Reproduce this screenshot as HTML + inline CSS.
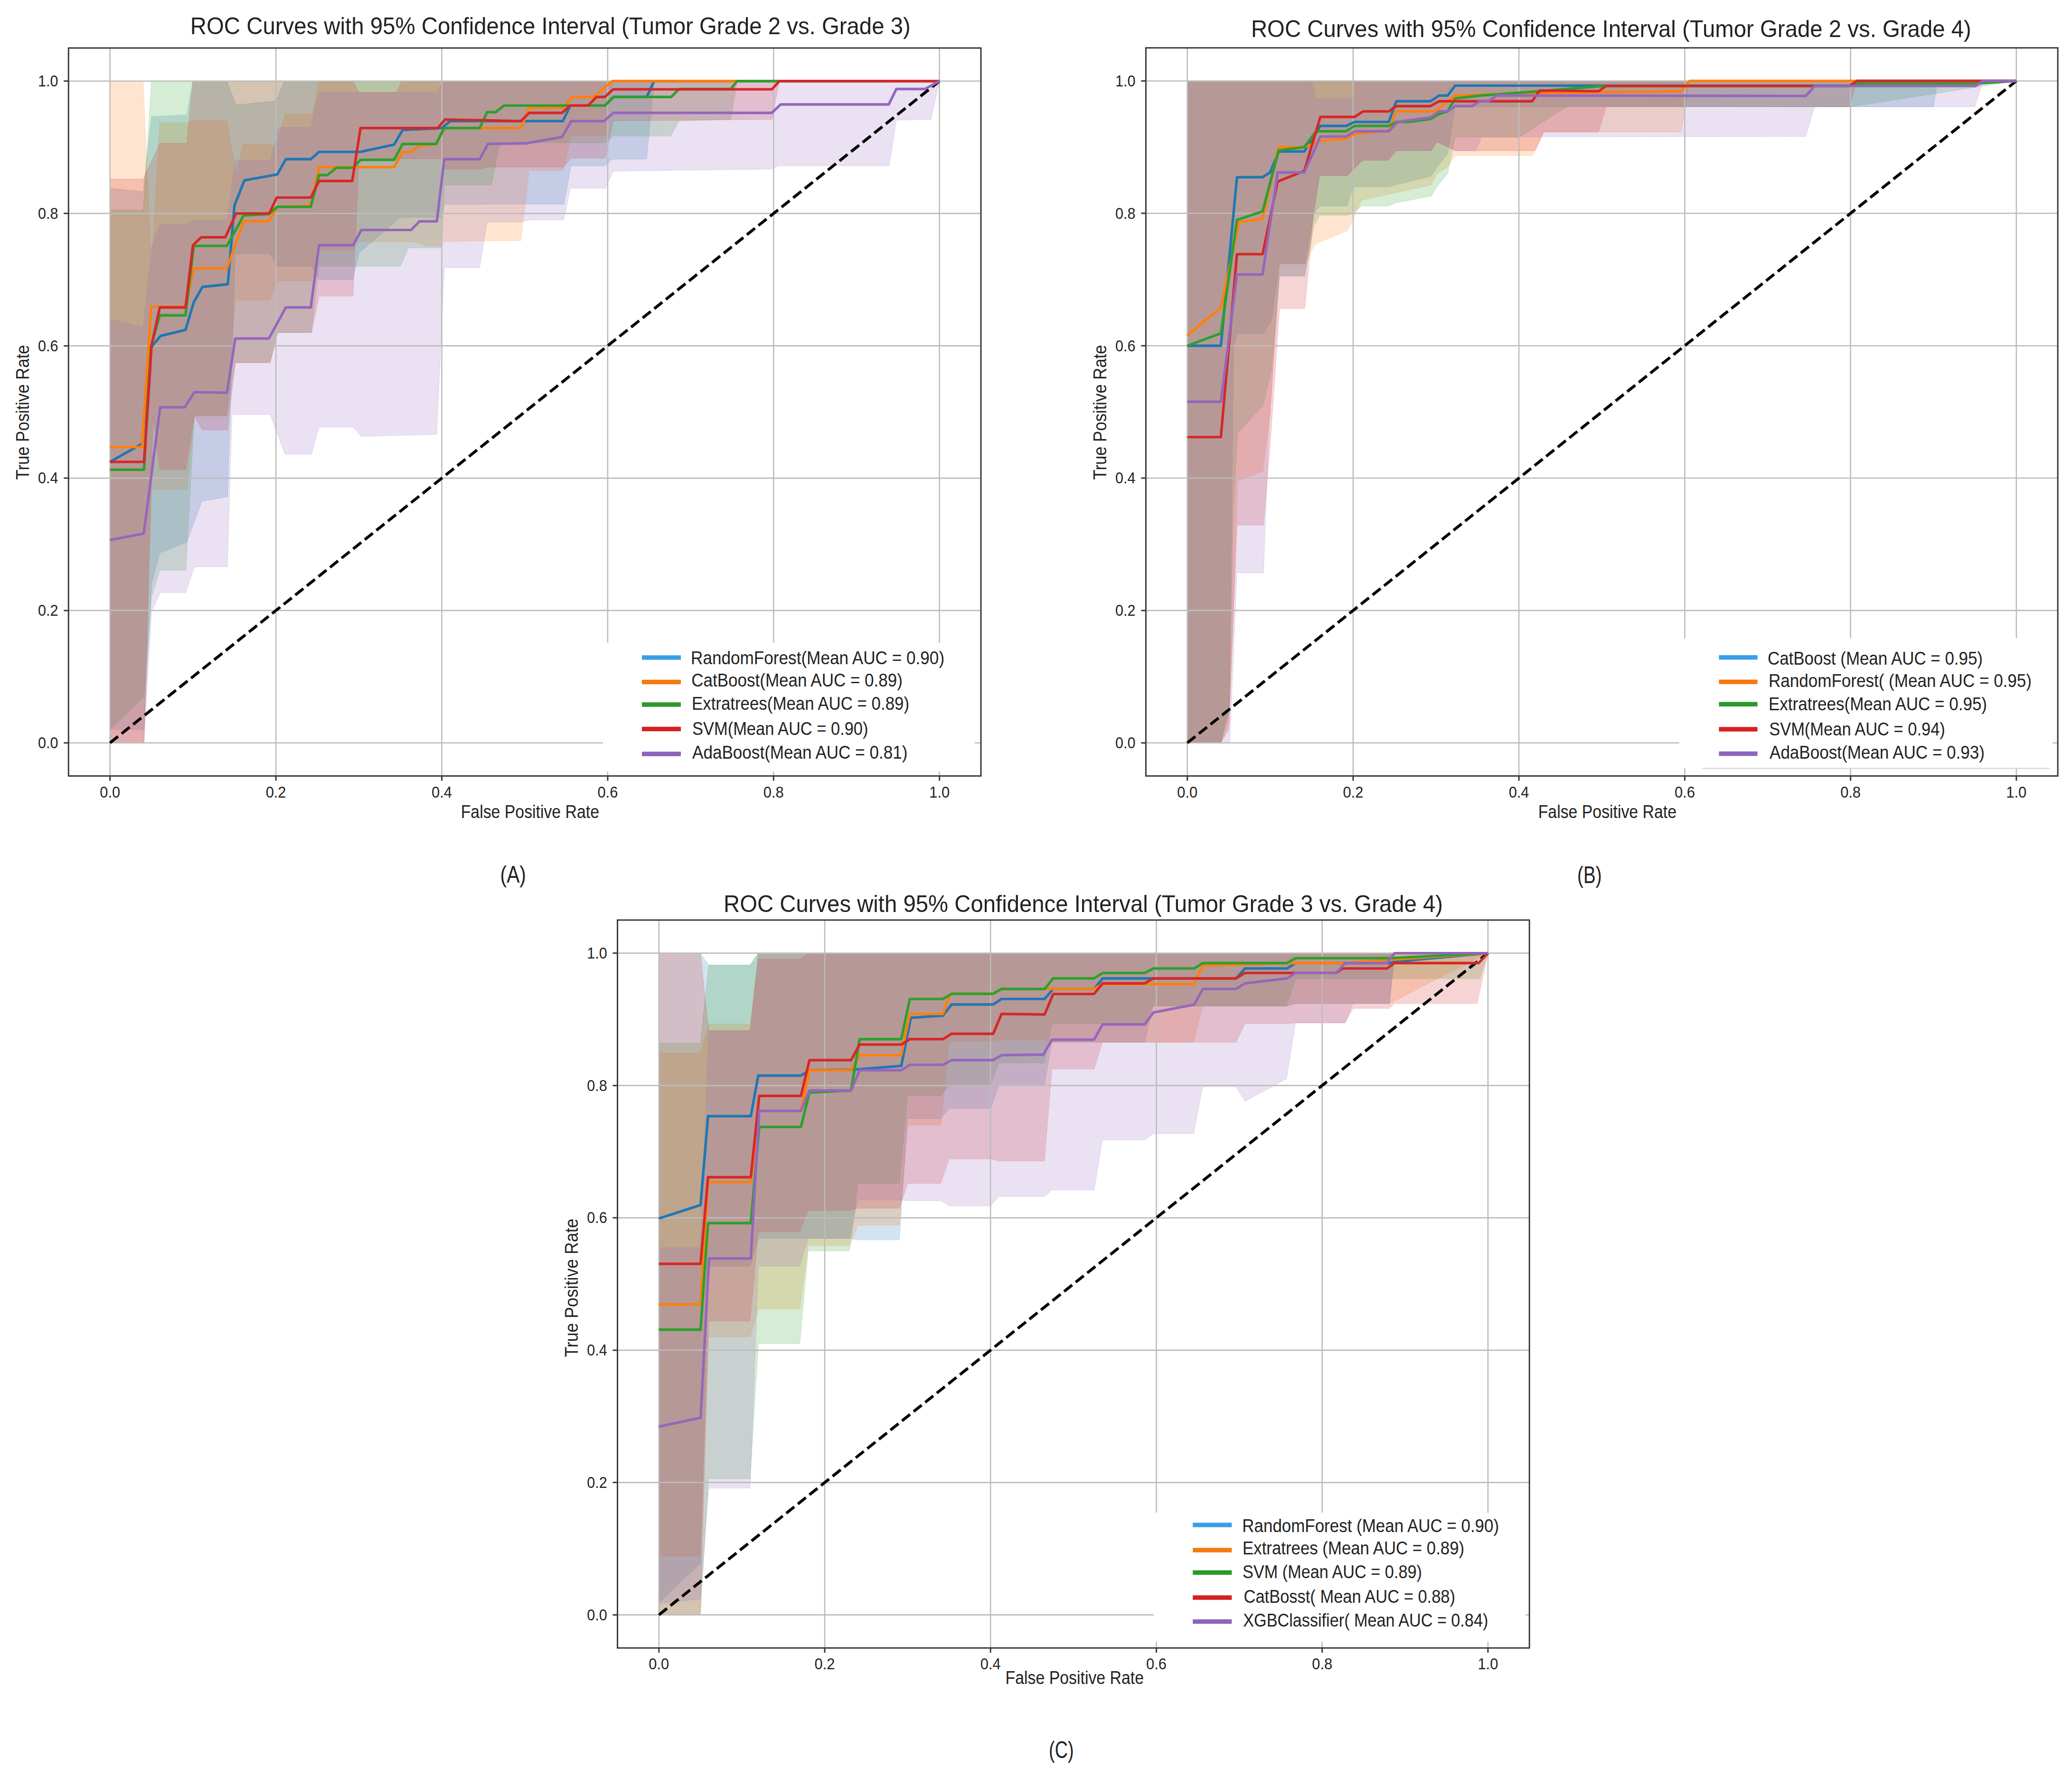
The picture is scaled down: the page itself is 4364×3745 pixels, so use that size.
<!DOCTYPE html><html><head><meta charset="utf-8"><style>html,body{margin:0;padding:0;background:#fff;width:4364px;height:3745px;overflow:hidden}</style></head><body><svg xmlns="http://www.w3.org/2000/svg" width="4364" height="3745" viewBox="0 0 4364 3745" style="display:block;font-family:'Liberation Sans', sans-serif;fill:#222;white-space:pre">
<rect width="4364" height="3745" fill="#fff"/>
<clipPath id="clipA"><rect x="144.3" y="101.1" width="1921.7" height="1533.3"/></clipPath>
<g clip-path="url(#clipA)">
<path d="M231.7 396.6 L301.6 403.6 L319.1 246.1 L393.3 241.9 L406.4 170.8 L478 170.8 L497.2 221 L581.1 212.6 L598.6 170.8 L1978.7 170.8 L1978.7 170.8 L1377.7 170.8 L1362 335.3 L1289.7 335.3 L1274.7 349.2 L1203 349.2 L1187.3 430.1 L1113.9 430.1 L1096.5 430.1 L1026.6 430.1 L1010.9 430.3 L935.7 430.3 L930.5 457.9 L843.1 457.9 L755.8 533.2 L743.6 589 L671.9 589 L656.2 561.1 L584.6 561.1 L568.9 534.6 L495.5 534.6 L479.1 1046.2 L425.1 1055.9 L393.6 1142.3 L336.5 1164.7 L319.1 1230.2 L303.3 1536.8 L231.7 1536.8Z" fill="#1f77b4" fill-opacity="0.2" stroke="#1f77b4" stroke-opacity="0.2" stroke-width="1"/>
<path d="M231.7 170.8 L301.6 170.8 L319.1 568.1 L336.5 258.6 L390.7 258.6 L406.4 254.4 L478 254.4 L497.2 365.9 L513 303.2 L566.3 303.2 L581.1 310.2 L600.3 240.5 L658 240.5 L671.9 170.8 L1978.7 170.8 L1978.7 170.8 L1289.7 170.8 L1274.7 285.1 L1203 285.1 L1187.3 359 L1114.6 359 L1097 506.7 L935.7 508.5 L930.5 517.9 L895.6 517.9 L878.1 509.5 L755.8 509.5 L743.6 526.2 L671.9 526.2 L656.2 591.8 L584.6 591.8 L568.9 632.2 L495.5 632.2 L478 876.1 L409.4 876.1 L394.2 1030.8 L319.1 1030.8 L303.3 1564.7 L231.7 1564.7Z" fill="#ff7f0e" fill-opacity="0.2" stroke="#ff7f0e" stroke-opacity="0.2" stroke-width="1"/>
<path d="M231.7 442.6 L301.6 442.6 L319.1 170.8 L1978.7 170.8 L1978.7 170.8 L1552.4 170.8 L1539.3 251.6 L1430.1 254.4 L1412.7 286.5 L1291.8 286.5 L1274.7 300.4 L1203 300.4 L1187.3 300.4 L1052.8 300.4 L1035.3 389.6 L935.7 389.6 L930.5 522.1 L860.6 522.1 L843.1 561.1 L755.8 561.1 L743.6 561.1 L671.9 561.1 L656.2 700.5 L584.6 700.5 L568.9 763.9 L495.5 763.9 L478 876.1 L409.4 876.1 L391.4 1200.9 L336.5 1200.9 L319.1 1258 L303.3 1467.1 L231.7 1536.8Z" fill="#2ca02c" fill-opacity="0.2" stroke="#2ca02c" stroke-opacity="0.2" stroke-width="1"/>
<path d="M231.7 377.1 L301.6 377.1 L336.5 301.8 L393.3 301.8 L406.4 170.8 L743.6 170.8 L755.8 194.5 L834.4 194.5 L846.6 170.8 L1978.7 170.8 L1978.7 170.8 L1641.5 170.8 L1625.8 251.6 L1291.8 254.4 L1274.7 333.2 L1203 333.2 L1187.3 352 L1026.6 352 L1010.9 356.2 L935.7 356.2 L930.5 334.4 L755.8 334.4 L743.6 623.8 L671.9 623.8 L656.2 700.5 L584.6 700.5 L568.9 763.9 L495.5 763.9 L479.1 905.4 L425.6 905.4 L409.4 876.1 L391.4 989 L336.5 989 L322.5 876.1 L303.3 1564.7 L231.7 1564.7Z" fill="#d62728" fill-opacity="0.2" stroke="#d62728" stroke-opacity="0.2" stroke-width="1"/>
<path d="M231.7 672.6 L301.6 689.3 L319.1 519.3 L336.5 473.3 L390.7 473.3 L406.4 463.5 L478 463.5 L495.5 338.1 L568.9 338.1 L586.3 268.4 L654.5 268.4 L671.9 194.5 L920 194.5 L935.7 170.8 L1978.7 170.8 L1978.7 170.8 L1961.2 251.6 L1887.9 253 L1873.2 349.2 L1639.8 349.2 L1625.8 356.2 L1292.1 360.4 L1274.7 396.6 L1201.3 396.6 L1187.3 463.5 L1114.6 463.5 L1096.5 467.7 L1025.9 467.7 L1010.2 563.9 L935.7 563.9 L920 915.1 L761 919.3 L743.6 899.8 L671.9 899.8 L656.2 957 L600.3 957 L568.9 873.3 L488.5 873.3 L479.1 1193.9 L409.4 1193.9 L391.4 1248.3 L337.4 1248.3 L319.1 1288.7 L303.3 1564.7 L231.7 1564.7Z" fill="#9467bd" fill-opacity="0.2" stroke="#9467bd" stroke-opacity="0.2" stroke-width="1"/>
</g>
<path d="M231.7 101.1 V1634.4 M144.3 1564.7 H2066.1 M581.1 101.1 V1634.4 M144.3 1285.9 H2066.1 M930.5 101.1 V1634.4 M144.3 1007.1 H2066.1 M1279.9 101.1 V1634.4 M144.3 728.4 H2066.1 M1629.3 101.1 V1634.4 M144.3 449.6 H2066.1 M1978.7 101.1 V1634.4 M144.3 170.8 H2066.1" stroke="#bcbcbc" stroke-width="2.6" fill="none"/>
<g clip-path="url(#clipA)">
<path d="M231.7 1564.7 L1978.7 170.8" stroke="#000" stroke-width="6" stroke-dasharray="21.7 9.5" fill="none"/>
<path d="M231.7 972.9 L299.1 934.7 L318.4 731.1 L338.3 707.5 L390.7 694.9 L408.1 636.4 L426.5 604.3 L479.8 598.7 L493.8 432.9 L514.7 379.9 L584.1 367.3 L602.1 335.3 L654.5 335.3 L671.9 319.9 L759.3 319.9 L830 304.6 L847.9 273.9 L930.5 269.8 L948 255.1 L1185.4 255.1 L1201.3 222.4 L1274 222.4 L1291.8 204.3 L1362 204.3 L1377.7 170.8 L1978.7 170.8" stroke="#1f77b4" stroke-width="5.4" fill="none" stroke-linejoin="round"/>
<path d="M231.7 941.6 L299.1 941.6 L318.4 646.1 L390.7 646.1 L408.1 565.3 L478 565.3 L513 466.3 L566.3 466.3 L584.1 435.6 L654.5 432.9 L671.9 352 L830 352 L847.9 319.9 L865.9 319.9 L883.3 307.4 L918.3 303.2 L935.7 269.8 L1097 269.8 L1114.6 226.8 L1187.3 226.6 L1205.1 204.3 L1250.2 204.3 L1289.7 170.8 L1978.7 170.8" stroke="#ff7f0e" stroke-width="5.4" fill="none" stroke-linejoin="round"/>
<path d="M231.7 989.4 L303.3 989.4 L318.4 728.4 L336.5 664.2 L390.7 664.2 L408.1 517.9 L478 517.9 L513 453.8 L566.3 451 L584.1 435.6 L654.5 435.6 L671.9 368.7 L689.4 368.7 L708.6 353.4 L743.6 353.4 L759.3 336.7 L830 336.7 L847.9 303.2 L918.3 303.2 L935.7 269.8 L1010.2 269.8 L1025.9 236.3 L1043.7 236.3 L1061.5 222.4 L1274 222.4 L1291.8 204.3 L1413.7 204.3 L1430.1 187.5 L1539.3 187.5 L1552.4 170.8 L1978.7 170.8" stroke="#2ca02c" stroke-width="5.4" fill="none" stroke-linejoin="round"/>
<path d="M231.7 972.9 L303.3 972.9 L314.9 799.4 L319.1 728.4 L336.5 647.5 L390.7 647.5 L406.4 516.5 L423.9 499.8 L474.5 499.8 L497.2 449.6 L567.1 449.6 L582.8 416.1 L654.5 416.1 L671.9 381.3 L741.8 381.3 L759.3 269.8 L921.8 269.8 L937.5 251.6 L1097 255.1 L1114.6 237.7 L1183.5 237.7 L1201.3 222.4 L1238.5 222.4 L1256.3 204.3 L1274 204.3 L1291.8 188.1 L1625.8 188.1 L1641.5 170.8 L1978.7 170.8" stroke="#d62728" stroke-width="5.4" fill="none" stroke-linejoin="round"/>
<path d="M231.7 1137.3 L302.8 1123.8 L337.4 857.9 L389.1 857.9 L409.4 825.9 L478 827.3 L495.5 713 L566.3 713 L602.1 647.5 L654.5 647.5 L671.9 516.5 L743.6 516.5 L761 484.4 L865.9 484.4 L883.3 466.3 L920 466.3 L935.7 335.3 L1010.2 335.3 L1027.8 303.2 L1108.3 301.8 L1183.5 288.6 L1203 255.1 L1272 255.1 L1291.8 237.7 L1625.8 237.7 L1644.1 220 L1871.8 220 L1887.9 187.5 L1948.1 187.5 L1978.7 170.8" stroke="#9467bd" stroke-width="5.4" fill="none" stroke-linejoin="round"/>
</g>
<rect x="1270" y="1354" width="783" height="271" fill="#fff"/>
<rect x="144.3" y="101.1" width="1921.7" height="1533.3" fill="none" stroke="#3a3a3a" stroke-width="3"/>
<path d="M134.3 1564.7 H144.3 M231.7 1634.4 V1644.4 M134.3 1285.9 H144.3 M581.1 1634.4 V1644.4 M134.3 1007.1 H144.3 M930.5 1634.4 V1644.4 M134.3 728.4 H144.3 M1279.9 1634.4 V1644.4 M134.3 449.6 H144.3 M1629.3 1634.4 V1644.4 M134.3 170.8 H144.3 M1978.7 1634.4 V1644.4" stroke="#3a3a3a" stroke-width="3" fill="none"/>
<text x="80.1" y="1576" font-size="32.5" text-anchor="start" textLength="42.5" lengthAdjust="spacingAndGlyphs">0.0</text>
<text x="231.7" y="1679.5" font-size="32.5" text-anchor="middle" textLength="42.9" lengthAdjust="spacingAndGlyphs">0.0</text>
<text x="80.1" y="1297.2" font-size="32.5" text-anchor="start" textLength="42.5" lengthAdjust="spacingAndGlyphs">0.2</text>
<text x="581.1" y="1679.5" font-size="32.5" text-anchor="middle" textLength="42.9" lengthAdjust="spacingAndGlyphs">0.2</text>
<text x="80.1" y="1018.4" font-size="32.5" text-anchor="start" textLength="42.5" lengthAdjust="spacingAndGlyphs">0.4</text>
<text x="930.5" y="1679.5" font-size="32.5" text-anchor="middle" textLength="42.9" lengthAdjust="spacingAndGlyphs">0.4</text>
<text x="80.1" y="739.7" font-size="32.5" text-anchor="start" textLength="42.5" lengthAdjust="spacingAndGlyphs">0.6</text>
<text x="1279.9" y="1679.5" font-size="32.5" text-anchor="middle" textLength="42.9" lengthAdjust="spacingAndGlyphs">0.6</text>
<text x="80.1" y="460.9" font-size="32.5" text-anchor="start" textLength="42.5" lengthAdjust="spacingAndGlyphs">0.8</text>
<text x="1629.3" y="1679.5" font-size="32.5" text-anchor="middle" textLength="42.9" lengthAdjust="spacingAndGlyphs">0.8</text>
<text x="80.1" y="182.1" font-size="32.5" text-anchor="start" textLength="42.5" lengthAdjust="spacingAndGlyphs">1.0</text>
<text x="1978.7" y="1679.5" font-size="32.5" text-anchor="middle" textLength="42.9" lengthAdjust="spacingAndGlyphs">1.0</text>
<text x="400.8" y="72.2" font-size="49.7" text-anchor="start" textLength="1517" lengthAdjust="spacingAndGlyphs">ROC Curves with 95% Confidence Interval  (Tumor Grade 2 vs. Grade 3)</text>
<text x="970.7" y="1723.3" font-size="39.2" text-anchor="start" textLength="291.3" lengthAdjust="spacingAndGlyphs">False Positive Rate</text>
<text x="0" y="0" font-size="39.2" transform="translate(61 1010.4) rotate(-90)" textLength="284" lengthAdjust="spacingAndGlyphs">True Positive Rate</text>
<path d="M1352 1384.9 H1434" stroke="#3a9fe6" stroke-width="9.5"/>
<text x="1455.1" y="1398.9" font-size="39.2" text-anchor="start" textLength="534" lengthAdjust="spacingAndGlyphs">RandomForest(Mean AUC = 0.90)</text>
<path d="M1352 1436.6 H1434" stroke="#f57a10" stroke-width="9.5"/>
<text x="1456.3" y="1446.2" font-size="39.2" text-anchor="start" textLength="444.6" lengthAdjust="spacingAndGlyphs">CatBoost(Mean AUC = 0.89)</text>
<path d="M1352 1483.9 H1434" stroke="#2a9a2a" stroke-width="9.5"/>
<text x="1457" y="1495.4" font-size="39.2" text-anchor="start" textLength="458" lengthAdjust="spacingAndGlyphs">Extratrees(Mean AUC = 0.89)</text>
<path d="M1352 1535.4 H1434" stroke="#d62020" stroke-width="9.5"/>
<text x="1458" y="1548.3" font-size="39.2" text-anchor="start" textLength="370.5" lengthAdjust="spacingAndGlyphs">SVM(Mean AUC = 0.90)</text>
<path d="M1352 1588 H1434" stroke="#8c64bb" stroke-width="9.5"/>
<text x="1458" y="1597.6" font-size="39.2" text-anchor="start" textLength="453.4" lengthAdjust="spacingAndGlyphs">AdaBoost(Mean AUC = 0.81)</text>
<clipPath id="clipB"><rect x="2413.4" y="100.8" width="1920.7" height="1533.6"/></clipPath>
<g clip-path="url(#clipB)">
<path d="M2500.7 170.5 L4246.8 170.5 L4246.8 170.5 L4080.9 170.5 L4072.2 224.9 L3064.7 224.9 L3049 323.9 L3026.8 351.7 L3014.4 371.3 L2940.7 389.4 L2923.6 393.6 L2849.9 393.6 L2837.7 434 L2779.4 434 L2767 451.6 L2748.1 555.7 L2694.9 555.7 L2677.6 676.6 L2660.5 703.1 L2605.5 703.1 L2598.5 728.2 L2588.9 1495 L2571.2 1564.7 L2500.7 1564.7Z" fill="#1f77b4" fill-opacity="0.2" stroke="#1f77b4" stroke-opacity="0.2" stroke-width="1"/>
<path d="M2500.7 170.5 L4246.8 170.5 L4246.8 170.5 L3558.8 170.5 L3540.5 277.9 L3251.5 277.9 L3226.9 328 L3064.7 328 L3049 351.7 L3026.8 365.7 L3014.4 389.4 L2867.4 421.5 L2849.9 463.3 L2837.7 486.3 L2770.1 513.5 L2748.1 555.7 L2694.9 555.7 L2675.3 867.6 L2659.8 993.1 L2606.7 1012.6 L2597.6 1285.9 L2588.9 1522.9 L2571.2 1564.7 L2500.7 1564.7Z" fill="#ff7f0e" fill-opacity="0.2" stroke="#ff7f0e" stroke-opacity="0.2" stroke-width="1"/>
<path d="M2500.7 170.5 L4246.8 170.5 L4246.8 170.5 L3897.6 224.9 L3302.3 223.5 L3200.4 289 L3064.7 289 L3049 365.7 L3026.8 393.6 L3014.4 413.1 L2940.7 427 L2923.6 434 L2867.4 434 L2849.9 449.3 L2837.7 453.5 L2779.4 453.5 L2767 477.2 L2748.1 580.4 L2694.9 580.4 L2677.1 783.9 L2659.8 853.7 L2606.7 913.6 L2597.6 1076.7 L2588.9 1495 L2571.2 1564.7 L2500.7 1564.7Z" fill="#2ca02c" fill-opacity="0.2" stroke="#2ca02c" stroke-opacity="0.2" stroke-width="1"/>
<path d="M2500.7 170.5 L4246.8 170.5 L4246.8 170.5 L3911.2 170.5 L3895.5 224.9 L3382.7 224.9 L3366.9 277.9 L3251.5 277.9 L3234.1 317.4 L3064.7 317.4 L3026.8 298.8 L3014.4 317.4 L2940.7 317.4 L2923.6 337.8 L2870.3 337.8 L2837.7 369.9 L2779.4 369.9 L2767 449.3 L2748.1 650.1 L2694.9 650.1 L2675.3 937.3 L2661.3 1106 L2605.5 1106 L2588 1536.8 L2571.2 1564.7 L2500.7 1564.7Z" fill="#d62728" fill-opacity="0.2" stroke="#d62728" stroke-opacity="0.2" stroke-width="1"/>
<path d="M2500.7 170.5 L2762.6 170.5 L2771.3 208.1 L2846.4 208.1 L2855.2 170.5 L4246.8 170.5 L4246.8 170.5 L4177 170.5 L4159.5 224.9 L3821.8 224.9 L3803.5 287.6 L3120.6 288.6 L3108.3 317.4 L3064.7 317.4 L3026.8 298.8 L3014.4 317.4 L2940.7 317.4 L2923.6 337.8 L2870.3 337.8 L2837.7 369.9 L2779.4 369.9 L2767 449.3 L2748.1 582.5 L2694.9 582.5 L2672.7 899.7 L2661.3 1206.4 L2605.5 1206.4 L2590.1 1564.7 L2571.2 1564.7 L2500.7 1564.7Z" fill="#9467bd" fill-opacity="0.2" stroke="#9467bd" stroke-opacity="0.2" stroke-width="1"/>
</g>
<path d="M2500.7 100.8 V1634.4 M2413.4 1564.7 H4334.1 M2849.9 100.8 V1634.4 M2413.4 1285.9 H4334.1 M3199.1 100.8 V1634.4 M2413.4 1007 H4334.1 M3548.4 100.8 V1634.4 M2413.4 728.2 H4334.1 M3897.6 100.8 V1634.4 M2413.4 449.3 H4334.1 M4246.8 100.8 V1634.4 M2413.4 170.5 H4334.1" stroke="#bcbcbc" stroke-width="2.6" fill="none"/>
<g clip-path="url(#clipB)">
<path d="M2500.7 1564.7 L4246.8 170.5" stroke="#000" stroke-width="6" stroke-dasharray="21.7 9.5" fill="none"/>
<path d="M2500.7 728.2 L2571.4 728.2 L2605.3 373.2 L2659.2 373.2 L2675 363.3 L2693.1 319.1 L2747.1 319.1 L2780.9 265.2 L2834.9 265.2 L2853.1 256.9 L2925 256.9 L2940.7 213.3 L3012.8 213.3 L3031 201.2 L3049 201.2 L3064.7 180.4 L3895.5 180.4 L3911.2 170.5 L4246.8 170.5" stroke="#1f77b4" stroke-width="5.4" fill="none" stroke-linejoin="round"/>
<path d="M2500.7 706.6 L2571.4 648 L2609.7 467.9 L2659.2 461.1 L2693.1 309.9 L2747.1 309.9 L2780.9 296.7 L2834.9 292.1 L2853.1 282 L2925 275.1 L2940.7 234.6 L3021.9 234.6 L3064.7 201.2 L3251.2 195.6 L3540.5 192.1 L3558.8 170.5 L4246.8 170.5" stroke="#ff7f0e" stroke-width="5.4" fill="none" stroke-linejoin="round"/>
<path d="M2500.7 728.2 L2571.4 702.1 L2605.3 463.3 L2659.2 445.2 L2693.1 316.9 L2747.1 309.9 L2771.9 276.5 L2834.9 276.5 L2853.1 265.2 L2925 265.2 L2940.7 256.9 L2967.8 256.9 L3012.8 250.7 L3031 240.2 L3049 234.6 L3064.7 207.4 L3118.8 201.2 L3251.5 191.4 L3377.2 181.1 L3895.5 181.1 L3911.2 176.1 L4159.5 176.1 L4246.8 170.5" stroke="#2ca02c" stroke-width="5.4" fill="none" stroke-linejoin="round"/>
<path d="M2500.7 920.6 L2571.4 920.6 L2605.3 535.4 L2659.2 535.4 L2690.9 382.4 L2747.1 360.1 L2780.9 246.2 L2853.1 246.2 L2871 234.6 L2925 234.6 L2940.7 223.5 L3012.8 223.5 L3031 213.3 L3226.9 213.3 L3242.8 190.7 L3366.9 192.1 L3382.7 181.1 L3895.5 181.1 L3911.2 170.5 L4246.8 170.5" stroke="#d62728" stroke-width="5.4" fill="none" stroke-linejoin="round"/>
<path d="M2500.7 846.3 L2571.4 846.3 L2605.3 578.2 L2659.2 578.2 L2690.9 363.3 L2747.1 363.3 L2780.9 287.6 L2834.9 287.6 L2853.1 276.5 L2925 276.5 L2943.2 256.9 L3012.8 247.2 L3031 234.6 L3049 234.6 L3064.7 223.5 L3100.8 223.5 L3116.5 213.3 L3135.1 213.3 L3152.5 201.2 L3803.5 202.1 L3821.8 181.1 L4161.1 181.1 L4177 170.5 L4246.8 170.5" stroke="#9467bd" stroke-width="5.4" fill="none" stroke-linejoin="round"/>
</g>
<rect x="3537" y="1344" width="786" height="274" fill="#fff"/>
<rect x="2413.4" y="100.8" width="1920.7" height="1533.6" fill="none" stroke="#3a3a3a" stroke-width="3"/>
<path d="M2403.4 1564.7 H2413.4 M2500.7 1634.4 V1644.4 M2403.4 1285.9 H2413.4 M2849.9 1634.4 V1644.4 M2403.4 1007 H2413.4 M3199.1 1634.4 V1644.4 M2403.4 728.2 H2413.4 M3548.4 1634.4 V1644.4 M2403.4 449.3 H2413.4 M3897.6 1634.4 V1644.4 M2403.4 170.5 H2413.4 M4246.8 1634.4 V1644.4" stroke="#3a3a3a" stroke-width="3" fill="none"/>
<text x="2349.1" y="1576" font-size="32.5" text-anchor="start" textLength="42.5" lengthAdjust="spacingAndGlyphs">0.0</text>
<text x="2500.7" y="1679.5" font-size="32.5" text-anchor="middle" textLength="42.9" lengthAdjust="spacingAndGlyphs">0.0</text>
<text x="2349.1" y="1297.2" font-size="32.5" text-anchor="start" textLength="42.5" lengthAdjust="spacingAndGlyphs">0.2</text>
<text x="2849.9" y="1679.5" font-size="32.5" text-anchor="middle" textLength="42.9" lengthAdjust="spacingAndGlyphs">0.2</text>
<text x="2349.1" y="1018.3" font-size="32.5" text-anchor="start" textLength="42.5" lengthAdjust="spacingAndGlyphs">0.4</text>
<text x="3199.1" y="1679.5" font-size="32.5" text-anchor="middle" textLength="42.9" lengthAdjust="spacingAndGlyphs">0.4</text>
<text x="2349.1" y="739.5" font-size="32.5" text-anchor="start" textLength="42.5" lengthAdjust="spacingAndGlyphs">0.6</text>
<text x="3548.4" y="1679.5" font-size="32.5" text-anchor="middle" textLength="42.9" lengthAdjust="spacingAndGlyphs">0.6</text>
<text x="2349.1" y="460.6" font-size="32.5" text-anchor="start" textLength="42.5" lengthAdjust="spacingAndGlyphs">0.8</text>
<text x="3897.6" y="1679.5" font-size="32.5" text-anchor="middle" textLength="42.9" lengthAdjust="spacingAndGlyphs">0.8</text>
<text x="2349.1" y="181.8" font-size="32.5" text-anchor="start" textLength="42.5" lengthAdjust="spacingAndGlyphs">1.0</text>
<text x="4246.8" y="1679.5" font-size="32.5" text-anchor="middle" textLength="42.9" lengthAdjust="spacingAndGlyphs">1.0</text>
<text x="2634.9" y="78.1" font-size="49.7" text-anchor="start" textLength="1517" lengthAdjust="spacingAndGlyphs">ROC Curves with 95% Confidence Interval  (Tumor Grade 2 vs. Grade 4)</text>
<text x="3239.7" y="1723.3" font-size="39.2" text-anchor="start" textLength="291.3" lengthAdjust="spacingAndGlyphs">False Positive Rate</text>
<text x="0" y="0" font-size="39.2" transform="translate(2330 1010.4) rotate(-90)" textLength="284" lengthAdjust="spacingAndGlyphs">True Positive Rate</text>
<path d="M3620.4 1384.7 H3701.5" stroke="#3a9fe6" stroke-width="9.5"/>
<text x="3723" y="1399.7" font-size="39.2" text-anchor="start" textLength="453" lengthAdjust="spacingAndGlyphs">CatBoost (Mean AUC = 0.95)</text>
<path d="M3620.4 1436.2 H3701.5" stroke="#f57a10" stroke-width="9.5"/>
<text x="3725" y="1446.8" font-size="39.2" text-anchor="start" textLength="554" lengthAdjust="spacingAndGlyphs">RandomForest( (Mean AUC = 0.95)</text>
<path d="M3620.4 1483.2 H3701.5" stroke="#2a9a2a" stroke-width="9.5"/>
<text x="3725" y="1496.2" font-size="39.2" text-anchor="start" textLength="460" lengthAdjust="spacingAndGlyphs">Extratrees(Mean AUC = 0.95)</text>
<path d="M3620.4 1536 H3701.5" stroke="#d62020" stroke-width="9.5"/>
<text x="3726.2" y="1548.9" font-size="39.2" text-anchor="start" textLength="370.6" lengthAdjust="spacingAndGlyphs">SVM(Mean AUC = 0.94)</text>
<path d="M3620.4 1587.4 H3701.5" stroke="#8c64bb" stroke-width="9.5"/>
<text x="3727" y="1598.4" font-size="39.2" text-anchor="start" textLength="453" lengthAdjust="spacingAndGlyphs">AdaBoost(Mean AUC = 0.93)</text>
<clipPath id="clipC"><rect x="1300.5" y="1937.9" width="1920.7" height="1533.2"/></clipPath>
<g clip-path="url(#clipC)">
<path d="M1387.8 2007.6 L1475.1 2007.6 L1492.6 2032.7 L1579.9 2032.7 L1597.3 2007.6 L3133.9 2007.6 L3133.9 2007.6 L2937.1 2007.6 L2926.6 2113.8 L2728.8 2113.8 L2709.6 2119.1 L2428.5 2119.1 L2411 2195.2 L2215.5 2195.2 L2199.7 2286.4 L2103.7 2286.4 L2086.2 2335.1 L1998.9 2335.1 L1981.5 2356.1 L1911.6 2356.1 L1894.2 2611.5 L1806.9 2611.5 L1789.4 2608.3 L1702.1 2608.3 L1684.6 2608.3 L1597.3 2608.3 L1579.9 2666.9 L1492.6 2666.9 L1475.1 3292.7 L1387.8 3375.6Z" fill="#1f77b4" fill-opacity="0.2" stroke="#1f77b4" stroke-opacity="0.2" stroke-width="1"/>
<path d="M1387.8 2218.1 L1475.1 2218.1 L1492.6 2156.7 L1579.9 2156.7 L1597.3 2007.6 L3133.9 2007.6 L3133.9 2007.6 L2926.6 2113.8 L2728.8 2113.8 L2709.6 2119.1 L2533.2 2119.1 L2514 2195.2 L2215.5 2195.2 L2199.7 2190.2 L2103.7 2190.2 L2086.2 2193 L1998.9 2193 L1981.5 2370 L1911.6 2370 L1894.2 2580.5 L1806.9 2580.5 L1789.4 2623.7 L1702.1 2623.7 L1684.6 2756.9 L1597.3 2756.9 L1579.9 2816 L1492.6 2816 L1475.1 3278 L1387.8 3278Z" fill="#ff7f0e" fill-opacity="0.2" stroke="#ff7f0e" stroke-opacity="0.2" stroke-width="1"/>
<path d="M1387.8 2197.2 L1475.1 2197.2 L1492.6 2032.7 L1579.9 2032.7 L1597.3 2007.6 L3133.9 2007.6 L3133.9 2007.6 L3116.4 2061.3 L2728.8 2061.3 L2709.6 2119.1 L2428.5 2119.1 L2411 2156 L2215.5 2156 L2199.7 2239 L2103.7 2239 L2086.2 2286.4 L1998.9 2286.4 L1981.5 2308.2 L1911.6 2308.2 L1894.2 2492.6 L1806.9 2492.6 L1789.4 2634.8 L1702.1 2634.8 L1684.6 2829.9 L1597.3 2829.9 L1579.9 3114.7 L1492.6 3114.7 L1475.1 3401.4 L1387.8 3401.4Z" fill="#2ca02c" fill-opacity="0.2" stroke="#2ca02c" stroke-opacity="0.2" stroke-width="1"/>
<path d="M1387.8 2007.6 L1475.1 2007.6 L1492.6 2170.7 L1579.9 2170.7 L1597.3 2020.1 L1684.6 2020.1 L1702.1 2007.6 L3133.9 2007.6 L3133.9 2007.6 L3111.2 2113.8 L2937.1 2113.8 L2926.6 2124 L2849.8 2124 L2832.9 2154.6 L2728.8 2154.6 L2709.6 2156 L2622.3 2156 L2603.1 2195.2 L2322 2195.2 L2304.5 2251.5 L2215.5 2251.5 L2199.7 2445.3 L2103.7 2445.3 L2086.2 2441.1 L1998.9 2441.1 L1981.5 2492.6 L1911.6 2492.6 L1894.2 2544.8 L1806.9 2544.8 L1789.4 2549.8 L1702.1 2549.8 L1684.6 2594.4 L1597.3 2594.4 L1579.9 2782.6 L1492.6 2782.6 L1475.1 3401.4 L1387.8 3401.4Z" fill="#d62728" fill-opacity="0.2" stroke="#d62728" stroke-opacity="0.2" stroke-width="1"/>
<path d="M1387.8 2627.8 L1475.1 2627.8 L1492.6 2170.7 L1579.9 2170.7 L1597.3 2007.6 L3133.9 2007.6 L3133.9 2007.6 L2937.1 2007.6 L2926.6 2113.8 L2849.8 2113.8 L2832.9 2154.6 L2728.8 2154.6 L2709.6 2272.4 L2622.3 2319.8 L2603.1 2289.1 L2533.2 2289.1 L2514 2388.1 L2428.5 2388.1 L2411 2400.9 L2322 2400.9 L2304.5 2506.6 L2215.5 2506.6 L2199.7 2520.5 L2103.7 2520.5 L2086.2 2540 L1998.9 2540 L1981.5 2528.9 L1911.6 2528.9 L1894.2 2527.5 L1806.9 2527.5 L1789.4 2608.3 L1702.1 2608.3 L1684.6 2666.9 L1597.3 2666.9 L1579.9 3134.5 L1492.6 3134.5 L1475.1 3367.9 L1387.8 3377.7Z" fill="#9467bd" fill-opacity="0.2" stroke="#9467bd" stroke-opacity="0.2" stroke-width="1"/>
</g>
<path d="M1387.8 1937.9 V3471.1 M1300.5 3401.4 H3221.2 M1737 1937.9 V3471.1 M1300.5 3122.6 H3221.2 M2086.2 1937.9 V3471.1 M1300.5 2843.9 H3221.2 M2435.5 1937.9 V3471.1 M1300.5 2565.1 H3221.2 M2784.7 1937.9 V3471.1 M1300.5 2286.4 H3221.2 M3133.9 1937.9 V3471.1 M1300.5 2007.6 H3221.2" stroke="#bcbcbc" stroke-width="2.6" fill="none"/>
<g clip-path="url(#clipC)">
<path d="M1387.8 3401.4 L3133.9 2007.6" stroke="#000" stroke-width="6" stroke-dasharray="21.7 9.5" fill="none"/>
<path d="M1387.8 2566.5 L1475.5 2538.1 L1491.2 2351 L1581.3 2351 L1597 2265.5 L1686.9 2265.5 L1704.9 2254.2 L1799.4 2252.9 L1898.2 2245.1 L1918.4 2143.8 L1986 2139.2 L2004 2115.8 L2091.7 2115.8 L2109.6 2104.1 L2200.1 2104.1 L2218.2 2083.1 L2304.2 2083.1 L2322.5 2060.7 L2603.6 2060.7 L2621.9 2039.9 L2710.5 2039.9 L2728.8 2028.5 L2926.6 2028.5 L2937.1 2025.9 L3133.9 2007.6" stroke="#1f77b4" stroke-width="5.4" fill="none" stroke-linejoin="round"/>
<path d="M1387.8 2747.7 L1475.5 2747.7 L1491.2 2489.9 L1581.3 2489.9 L1599.1 2339.7 L1686.9 2339.7 L1704.9 2254.2 L1792.5 2254.2 L1810.5 2222.5 L1898.2 2222.5 L1916.2 2135.6 L1986 2135.6 L2001.7 2093.2 L2091.7 2093.2 L2109.6 2083.1 L2304.2 2083.1 L2322.5 2072.7 L2515.1 2072.7 L2533.4 2034.1 L2728.8 2028.5 L2827.6 2028.5 L3133.9 2007.6" stroke="#ff7f0e" stroke-width="5.4" fill="none" stroke-linejoin="round"/>
<path d="M1387.8 2800.7 L1475.5 2800.7 L1491.2 2576.3 L1581.3 2576.3 L1599.1 2373.6 L1686.9 2373.6 L1704.9 2301.4 L1792.5 2297 L1810.5 2188.8 L1898.2 2188.8 L1916.2 2104.1 L1986 2104.1 L2004 2093.2 L2091.7 2093.2 L2109.6 2082.9 L2200.1 2083.1 L2218.2 2060.7 L2304.2 2060.7 L2322.5 2049.4 L2411 2049.4 L2429.2 2039.9 L2515.1 2039.9 L2533.4 2028.5 L2710.5 2028.5 L2728.8 2018.1 L2926.6 2018.1 L3133.9 2007.6" stroke="#2ca02c" stroke-width="5.4" fill="none" stroke-linejoin="round"/>
<path d="M1387.8 2662 L1475.5 2662 L1491.2 2479.5 L1581.3 2479.5 L1599.1 2308.2 L1686.9 2308.2 L1704.9 2233 L1792.5 2233 L1810.5 2200.1 L1898.2 2200.1 L1916.2 2188.8 L1986 2188.8 L2004 2177.5 L2091.7 2177.5 L2109.6 2135.6 L2200.1 2136.8 L2218.2 2093.6 L2304.2 2093.6 L2322.5 2071.2 L2411 2071.2 L2429.2 2060.7 L2603.6 2060.7 L2621.9 2049.4 L2814.7 2049.4 L2827.6 2039.9 L2921.4 2039.9 L2937.1 2028.5 L3114.2 2028.5 L3133.9 2007.6" stroke="#d62728" stroke-width="5.4" fill="none" stroke-linejoin="round"/>
<path d="M1387.8 3005 L1475.6 2986 L1493.4 2650.7 L1581.3 2650.7 L1599.1 2339.7 L1686.9 2339.7 L1704.9 2297 L1792.5 2297 L1810.5 2254.2 L1898.2 2254.2 L1916.2 2242.9 L1986 2242.9 L2004 2233 L2091.7 2233 L2109.6 2222.5 L2197.5 2221.3 L2215.6 2189.9 L2304.2 2189.9 L2322.5 2157.7 L2411 2157.7 L2429.2 2132.6 L2515.1 2116 L2533.4 2083.1 L2603.6 2083.1 L2621.9 2071.2 L2710.5 2060.7 L2728.8 2049.4 L2814.7 2049.4 L2832.9 2028.5 L2921.4 2028.5 L2937.1 2007.6 L3133.9 2007.6" stroke="#9467bd" stroke-width="5.4" fill="none" stroke-linejoin="round"/>
</g>
<rect x="2430" y="3186" width="783" height="272" fill="#fff"/>
<rect x="1300.5" y="1937.9" width="1920.7" height="1533.2" fill="none" stroke="#3a3a3a" stroke-width="3"/>
<path d="M1290.5 3401.4 H1300.5 M1387.8 3471.1 V3481.1 M1290.5 3122.6 H1300.5 M1737 3471.1 V3481.1 M1290.5 2843.9 H1300.5 M2086.2 3471.1 V3481.1 M1290.5 2565.1 H1300.5 M2435.5 3471.1 V3481.1 M1290.5 2286.4 H1300.5 M2784.7 3471.1 V3481.1 M1290.5 2007.6 H1300.5 M3133.9 3471.1 V3481.1" stroke="#3a3a3a" stroke-width="3" fill="none"/>
<text x="1236.2" y="3412.7" font-size="32.5" text-anchor="start" textLength="42.5" lengthAdjust="spacingAndGlyphs">0.0</text>
<text x="1387.8" y="3516.2" font-size="32.5" text-anchor="middle" textLength="42.9" lengthAdjust="spacingAndGlyphs">0.0</text>
<text x="1236.2" y="3133.9" font-size="32.5" text-anchor="start" textLength="42.5" lengthAdjust="spacingAndGlyphs">0.2</text>
<text x="1737" y="3516.2" font-size="32.5" text-anchor="middle" textLength="42.9" lengthAdjust="spacingAndGlyphs">0.2</text>
<text x="1236.2" y="2855.2" font-size="32.5" text-anchor="start" textLength="42.5" lengthAdjust="spacingAndGlyphs">0.4</text>
<text x="2086.2" y="3516.2" font-size="32.5" text-anchor="middle" textLength="42.9" lengthAdjust="spacingAndGlyphs">0.4</text>
<text x="1236.2" y="2576.4" font-size="32.5" text-anchor="start" textLength="42.5" lengthAdjust="spacingAndGlyphs">0.6</text>
<text x="2435.5" y="3516.2" font-size="32.5" text-anchor="middle" textLength="42.9" lengthAdjust="spacingAndGlyphs">0.6</text>
<text x="1236.2" y="2297.7" font-size="32.5" text-anchor="start" textLength="42.5" lengthAdjust="spacingAndGlyphs">0.8</text>
<text x="2784.7" y="3516.2" font-size="32.5" text-anchor="middle" textLength="42.9" lengthAdjust="spacingAndGlyphs">0.8</text>
<text x="1236.2" y="2018.9" font-size="32.5" text-anchor="start" textLength="42.5" lengthAdjust="spacingAndGlyphs">1.0</text>
<text x="3133.9" y="3516.2" font-size="32.5" text-anchor="middle" textLength="42.9" lengthAdjust="spacingAndGlyphs">1.0</text>
<text x="1524" y="1920.8" font-size="49.7" text-anchor="start" textLength="1515" lengthAdjust="spacingAndGlyphs">ROC Curves with 95% Confidence Interval  (Tumor Grade 3 vs. Grade 4)</text>
<text x="2117.6" y="3546.6" font-size="39.2" text-anchor="start" textLength="291.4" lengthAdjust="spacingAndGlyphs">False Positive Rate</text>
<text x="0" y="0" font-size="39.2" transform="translate(1216.6 2858.6) rotate(-90)" textLength="292" lengthAdjust="spacingAndGlyphs">True  Positive Rate</text>
<path d="M2512.2 3212 H2594.3" stroke="#3a9fe6" stroke-width="9.5"/>
<text x="2616.3" y="3226.9" font-size="39.2" text-anchor="start" textLength="540.8" lengthAdjust="spacingAndGlyphs">RandomForest (Mean AUC = 0.90)</text>
<path d="M2512.2 3265 H2594.3" stroke="#f57a10" stroke-width="9.5"/>
<text x="2617.1" y="3274.2" font-size="39.2" text-anchor="start" textLength="467" lengthAdjust="spacingAndGlyphs">Extratrees (Mean AUC = 0.89)</text>
<path d="M2512.2 3312.2 H2594.3" stroke="#2a9a2a" stroke-width="9.5"/>
<text x="2617.1" y="3324.2" font-size="39.2" text-anchor="start" textLength="377.8" lengthAdjust="spacingAndGlyphs">SVM (Mean AUC = 0.89)</text>
<path d="M2512.2 3365 H2594.3" stroke="#d62020" stroke-width="9.5"/>
<text x="2619.5" y="3376.3" font-size="39.2" text-anchor="start" textLength="445.5" lengthAdjust="spacingAndGlyphs">CatBosst( Mean AUC = 0.88)</text>
<path d="M2512.2 3415.6 H2594.3" stroke="#8c64bb" stroke-width="9.5"/>
<text x="2618.3" y="3426.4" font-size="39.2" text-anchor="start" textLength="516" lengthAdjust="spacingAndGlyphs">XGBClassifier( Mean AUC = 0.84)</text>
<path d="M3585 1618.6 H4317" stroke="#d8d8d8" stroke-width="2.5"/>
<text x="1053.6" y="1859.3" font-size="50" text-anchor="start" textLength="54.3" lengthAdjust="spacingAndGlyphs">(A)</text>
<text x="3322.1" y="1860" font-size="50" text-anchor="start" textLength="51.4" lengthAdjust="spacingAndGlyphs">(B)</text>
<text x="2209.1" y="3702.5" font-size="50" text-anchor="start" textLength="52.5" lengthAdjust="spacingAndGlyphs">(C)</text>
</svg></body></html>
